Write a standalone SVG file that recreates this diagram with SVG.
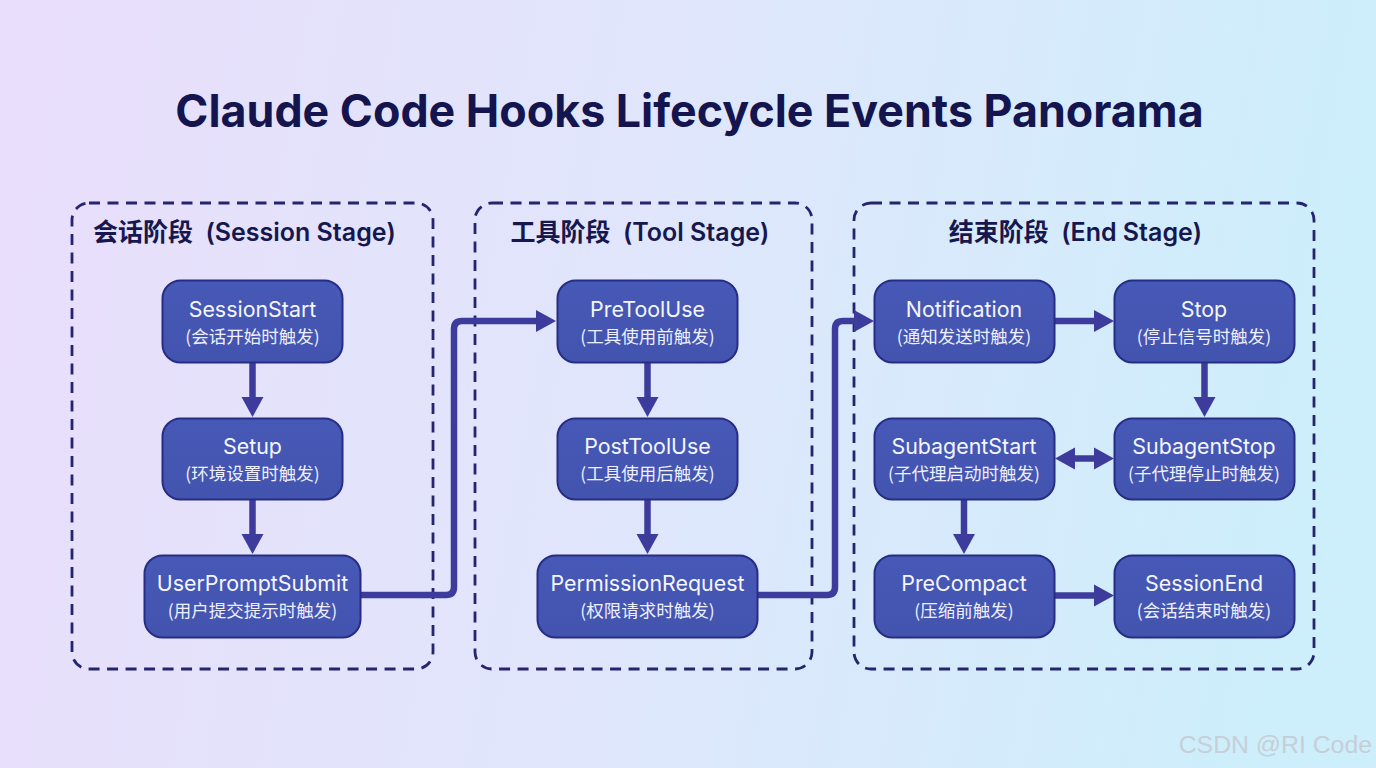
<svg xmlns="http://www.w3.org/2000/svg" width="1376" height="768" viewBox="0 0 1376 768">
<style>
text{text-anchor:middle;font-family:"Inter","Liberation Sans","Noto Sans CJK SC",sans-serif}
.title{font-size:44.750px;font-weight:700;fill:#14144f}
.stage{fill:none;stroke:#25256f;stroke-width:2.800;stroke-dasharray:11 7.500}
.slabel{font-size:25px;font-weight:600;fill:#17174f;font-family:"Inter","Noto Sans CJK SC",sans-serif}
.box{fill:url(#nodeFill);stroke:#272c84;stroke-width:2}
.n{font-size:21.400px;fill:#f4f6ff;font-weight:400}
.s{font-size:17.500px;fill:#eef0ff;font-family:"Noto Sans CJK SC","Noto Sans",sans-serif}
.c{fill:none;stroke:#3d3c9c;stroke-width:6.500;stroke-linejoin:round}
.wm{font-size:24.800px;fill:#c6cfd8;text-anchor:end;font-family:"Liberation Sans",sans-serif}
</style>
<defs>
<linearGradient id="bg" x1="0" y1="0" x2="1" y2="0.1"><stop offset="0" stop-color="#e9defb"/><stop offset="0.5" stop-color="#e0e6fb"/><stop offset="1" stop-color="#cdeefb"/></linearGradient>
<linearGradient id="nodeFill" x1="0" y1="0" x2="0" y2="1"><stop offset="0" stop-color="#4759b6"/><stop offset="1" stop-color="#4254ae"/></linearGradient>
<marker id="ah" markerUnits="userSpaceOnUse" markerWidth="20" markerHeight="24" refX="1" refY="12" orient="auto-start-reverse"><path d="M0 1L20 12L0 23Z" fill="#3d3c9c"/></marker>
</defs>
<rect width="1376" height="768" fill="url(#bg)"/>
<text class="title" x="689.500" y="127">Claude Code Hooks Lifecycle Events Panorama</text>

<g id="stage-session"><rect class="stage" x="72" y="203" width="361" height="466" rx="17"/><text class="slabel" x="244.500" y="241">会话阶段<tspan dx="6"> (Session Stage)</tspan></text></g>
<g id="stage-tool"><rect class="stage" x="475" y="203" width="337" height="466" rx="17"/><text class="slabel" x="640" y="241">工具阶段<tspan dx="6"> (Tool Stage)</tspan></text></g>
<g id="stage-end"><rect class="stage" x="854" y="203" width="460" height="466" rx="17"/><text class="slabel" x="1075.500" y="241">结束阶段<tspan dx="6"> (End Stage)</tspan></text></g>

<g id="connectors">
<path class="c" d="M252.500 363V398" marker-end="url(#ah)"/>
<path class="c" d="M252.500 500V535" marker-end="url(#ah)"/>
<path class="c" d="M361 595H446Q454 595 454 587V329Q454 321 462 321H537" marker-end="url(#ah)"/>
<path class="c" d="M647.500 363V398" marker-end="url(#ah)"/>
<path class="c" d="M647.500 500V535" marker-end="url(#ah)"/>
<path class="c" d="M758 595H827Q835 595 835 587V329Q835 321 843 321H855" marker-end="url(#ah)"/>
<path class="c" d="M1055 321H1095" marker-end="url(#ah)"/>
<path class="c" d="M1204.500 363V398" marker-end="url(#ah)"/>
<path class="c" d="M1074 458.500H1095" marker-start="url(#ah)" marker-end="url(#ah)"/>
<path class="c" d="M964 500V535" marker-end="url(#ah)"/>
<path class="c" d="M1055 595.500H1095" marker-end="url(#ah)"/>
</g>

<g id="SessionStart"><rect class="box" x="162.500" y="280.500" width="180" height="82" rx="18"/><text class="n" x="252.500" y="317">SessionStart</text><text class="s" x="252.500" y="343">(会话开始时触发)</text></g>
<g id="Setup"><rect class="box" x="162.500" y="418.500" width="180" height="81" rx="18"/><text class="n" x="252.500" y="454">Setup</text><text class="s" x="252.500" y="480">(环境设置时触发)</text></g>
<g id="UserPromptSubmit"><rect class="box" x="144.500" y="555.500" width="216" height="82" rx="18"/><text class="n" x="252.500" y="591">UserPromptSubmit</text><text class="s" x="252.500" y="617">(用户提交提示时触发)</text></g>
<g id="PreToolUse"><rect class="box" x="557.500" y="280.500" width="180" height="82" rx="18"/><text class="n" x="647.500" y="317">PreToolUse</text><text class="s" x="647.500" y="343">(工具使用前触发)</text></g>
<g id="PostToolUse"><rect class="box" x="557.500" y="418.500" width="180" height="81" rx="18"/><text class="n" x="647.500" y="454">PostToolUse</text><text class="s" x="647.500" y="480">(工具使用后触发)</text></g>
<g id="PermissionRequest"><rect class="box" x="537.500" y="555.500" width="220" height="82" rx="18"/><text class="n" x="647.500" y="591">PermissionRequest</text><text class="s" x="647.500" y="617">(权限请求时触发)</text></g>
<g id="Notification"><rect class="box" x="874.500" y="280.500" width="180" height="82" rx="18"/><text class="n" x="964" y="317">Notification</text><text class="s" x="964" y="343">(通知发送时触发)</text></g>
<g id="Stop"><rect class="box" x="1114.500" y="280.500" width="180" height="82" rx="18"/><text class="n" x="1204" y="317">Stop</text><text class="s" x="1204" y="343">(停止信号时触发)</text></g>
<g id="SubagentStart"><rect class="box" x="874.500" y="418.500" width="180" height="81" rx="18"/><text class="n" x="964" y="454">SubagentStart</text><text class="s" x="964" y="480">(子代理启动时触发)</text></g>
<g id="SubagentStop"><rect class="box" x="1114.500" y="418.500" width="180" height="81" rx="18"/><text class="n" x="1204" y="454">SubagentStop</text><text class="s" x="1204" y="480">(子代理停止时触发)</text></g>
<g id="PreCompact"><rect class="box" x="874.500" y="555.500" width="180" height="82" rx="18"/><text class="n" x="964" y="591">PreCompact</text><text class="s" x="964" y="617">(压缩前触发)</text></g>
<g id="SessionEnd"><rect class="box" x="1114.500" y="555.500" width="180" height="82" rx="18"/><text class="n" x="1204" y="591">SessionEnd</text><text class="s" x="1204" y="617">(会话结束时触发)</text></g>
<text class="wm" x="1372" y="753">CSDN @RI Code</text>
</svg>
